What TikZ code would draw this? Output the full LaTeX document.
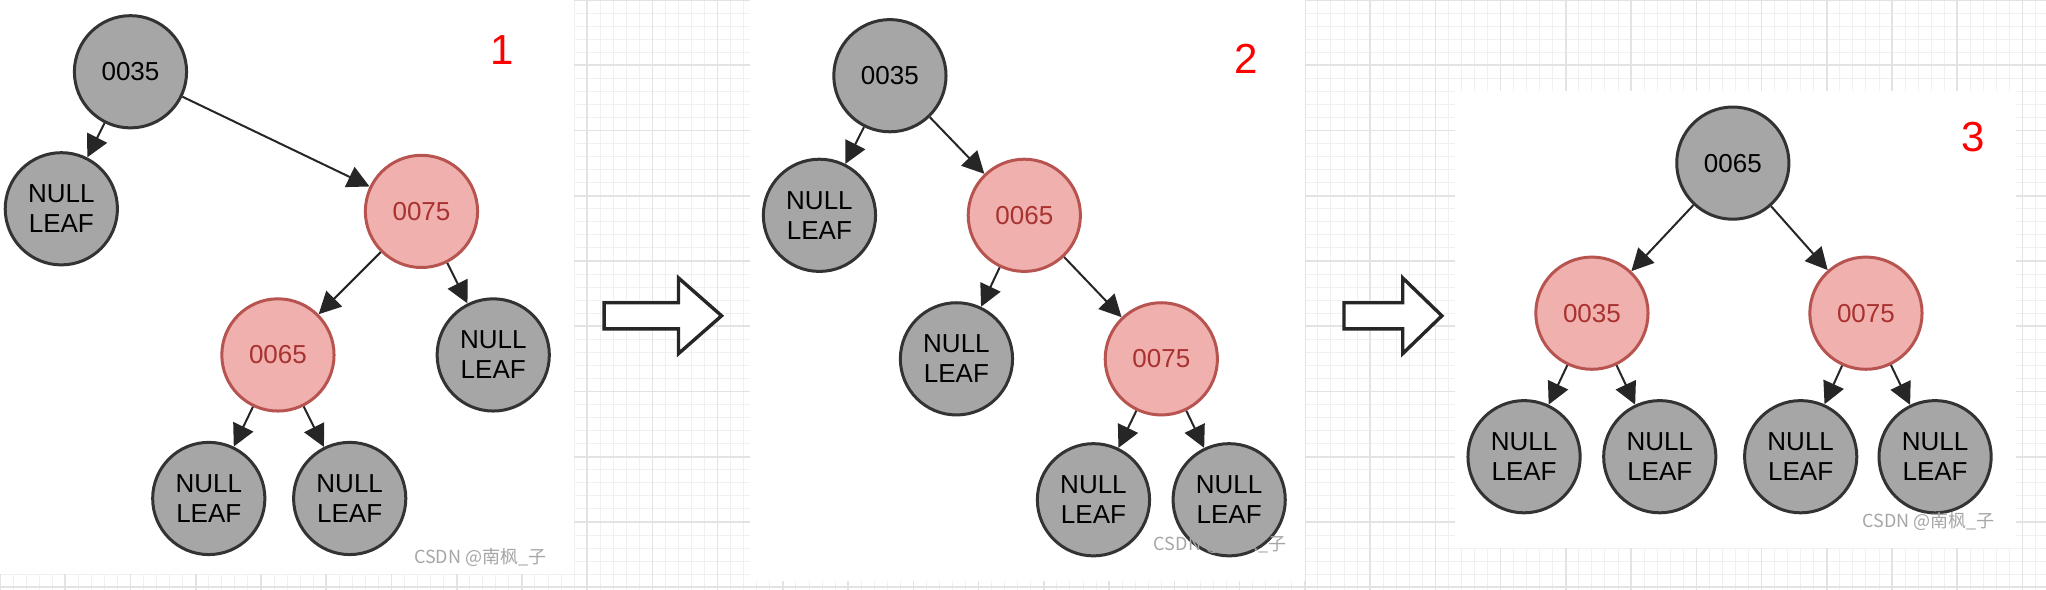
\documentclass[tikz,border=0pt]{standalone}
\usepackage{fontspec}
\setmainfont{Liberation Sans}
\newfontfamily\cjk{Noto Sans CJK SC}
\usetikzlibrary{arrows.meta}
\definecolor{gnode}{HTML}{A6A6A6}
\definecolor{rfill}{HTML}{F0B0AE}
\definecolor{rline}{HTML}{B85450}
\definecolor{rtext}{HTML}{A83230}
\tikzset{
  bn/.style={circle,draw=black!80,line width=1.5pt,fill=gnode,minimum size=86*0.6524pt,inner sep=0pt,align=center,font=\fontsize{13}{15}\selectfont},
  rn/.style={bn,draw=rline,fill=rfill,text=rtext},
  ed/.style={-{Triangle[length=11pt,width=11pt]},line width=1pt,black!85},
  num/.style={text=red,font=\fontsize{21}{21}\selectfont},
  wm/.style={text=black!35,font=\cjk\fontsize{9}{9}\selectfont},
  harrow/.style={draw=black!85,line width=1.7pt,fill=white},
  gl/.style={black!6,line width=0.5pt},
  gL/.style={black!11,line width=0.8pt}
}
\begin{document}
\begin{tikzpicture}[x=0.6524pt,y=-0.6524pt]
\useasboundingbox (0,0) rectangle (1568,452);
\fill[white] (0,0) rectangle (1568,452);
\foreach \i in {0,...,157} {\draw[gl] (\i*10,0) -- (\i*10,452);}
\foreach \j in {0,...,45} {\draw[gl] (0,\j*10) -- (1568,\j*10);}
\foreach \i in {0,...,31} {\draw[gL] (\i*50,0) -- (\i*50,452);}
\foreach \j in {0,...,9} {\draw[gL] (0,\j*50) -- (1568,\j*50);}
\fill[white] (0,0) rectangle (440,440);
\fill[white] (575,0) rectangle (1000,445);
\fill[white] (1115,70) rectangle (1545,420);
% panel 1
\node[bn] (a1) at (100,55) {0035};
\node[bn] (a2) at (47,160) {NULL\\LEAF};
\node[rn] (a3) at (323,162) {0075};
\node[rn] (a4) at (213,272) {0065};
\node[bn] (a5) at (378,272) {NULL\\LEAF};
\node[bn] (a6) at (160,382) {NULL\\LEAF};
\node[bn] (a7) at (268,382) {NULL\\LEAF};
\draw[ed] (a1)--(a2); \draw[ed] (a1)--(a3); \draw[ed] (a3)--(a4);
\draw[ed] (a3)--(a5); \draw[ed] (a4)--(a6); \draw[ed] (a4)--(a7);
\node[num] (n1) at (385,38) {1};
\node[wm] (w1) at (368,427) {CSDN @南枫\_子};
% arrow 1
\draw[harrow] (463,232)--(520,232)--(520,213)--(553,242)--(520,271)--(520,252)--(463,252)--cycle;
% panel 2
\node[bn] (b1) at (682,58) {0035};
\node[bn] (b2) at (628,165) {NULL\\LEAF};
\node[rn] (b3) at (785,165) {0065};
\node[bn] (b4) at (733,275) {NULL\\LEAF};
\node[rn] (b5) at (890,275) {0075};
\node[bn] (b6) at (838,383) {NULL\\LEAF};
\node[bn] (b7) at (942,383) {NULL\\LEAF};
\draw[ed] (b1)--(b2); \draw[ed] (b1)--(b3); \draw[ed] (b3)--(b4);
\draw[ed] (b3)--(b5); \draw[ed] (b5)--(b6); \draw[ed] (b5)--(b7);
\node[num] (n2) at (955,45) {2};
\node[wm] (w2) at (935,417) {CSDN @南枫\_子};
% arrow 2
\draw[harrow] (1030,232)--(1075,232)--(1075,213)--(1105,242)--(1075,271)--(1075,252)--(1030,252)--cycle;
% panel 3
\node[bn] (c1) at (1328,125) {0065};
\node[rn] (c2) at (1220,240) {0035};
\node[rn] (c3) at (1430,240) {0075};
\node[bn] (c4) at (1168,350) {NULL\\LEAF};
\node[bn] (c5) at (1272,350) {NULL\\LEAF};
\node[bn] (c6) at (1380,350) {NULL\\LEAF};
\node[bn] (c7) at (1483,350) {NULL\\LEAF};
\draw[ed] (c1)--(c2); \draw[ed] (c1)--(c3); \draw[ed] (c2)--(c4);
\draw[ed] (c2)--(c5); \draw[ed] (c3)--(c6); \draw[ed] (c3)--(c7);
\node[num] (n3) at (1512,105) {3};
\node[wm] (w3) at (1478,400) {CSDN @南枫\_子};
\end{tikzpicture}
\end{document}
